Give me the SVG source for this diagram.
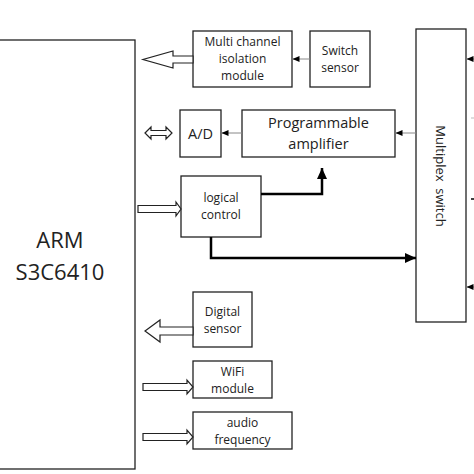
<svg xmlns="http://www.w3.org/2000/svg" width="474" height="474" viewBox="0 0 474 474">
<defs>
<marker id="ah" markerWidth="8" markerHeight="8" refX="7" refY="4" orient="auto" markerUnits="userSpaceOnUse">
<path d="M0,1 L7,4 L0,7 Z" fill="#000"/>
</marker>
<marker id="ahb" markerWidth="12" markerHeight="12" refX="11" refY="6" orient="auto" markerUnits="userSpaceOnUse">
<path d="M0,1 L11,6 L0,11 Z" fill="#000"/>
</marker>
<style>
.box{fill:#fff;stroke:#222;stroke-width:1.3}
.t{font-family:"Open Sans","Liberation Sans",sans-serif;font-size:12px;fill:#222;text-anchor:middle}
.m{font-size:14.5px}
.big{font-family:"Open Sans","Liberation Sans",sans-serif;font-size:22px;fill:#222;text-anchor:middle}
.thin{stroke:#888;stroke-width:1;fill:none}
.thick{stroke:#000;stroke-width:2.5;fill:none}
.hol{fill:#fff;stroke:#222;stroke-width:1.2}
</style>
</defs>
<rect width="474" height="474" fill="#fff"/>
<g id="arm"><rect class="box" x="-5" y="40" width="140" height="429"/>
<text class="big" x="60" y="248">ARM</text><text class="big" x="60" y="280">S3C6410</text></g>
<g id="multi"><rect class="box" x="193" y="31" width="99" height="56"/>
<text class="t" x="242.5" y="46">Multi channel</text><text class="t" x="242.5" y="63">isolation</text><text class="t" x="242.5" y="80">module</text></g>
<g id="switch"><rect class="box" x="310" y="31" width="60" height="56"/>
<text class="t" x="340" y="55">Switch</text><text class="t" x="340" y="72">sensor</text></g>
<g id="ad"><rect class="box" x="180" y="110" width="41" height="47"/>
<text class="t m" x="200.5" y="139">A/D</text></g>
<g id="amp"><rect class="box" x="242" y="110" width="153" height="47"/>
<text class="t m" x="318.5" y="128">Programmable</text><text class="t m" x="318.5" y="149">amplifier</text></g>
<g id="logic"><rect class="box" x="181" y="176" width="80" height="61"/>
<text class="t" x="221" y="202">logical</text><text class="t" x="221" y="219">control</text></g>
<g id="mux"><rect class="box" x="416" y="29" width="50" height="293"/>
<text class="t" style="font-size:13px" transform="translate(436,176) rotate(90)" x="0" y="0" xml:space="preserve">Multiplex  switch</text></g>
<g id="digital"><rect class="box" x="193" y="292" width="59" height="55"/>
<text class="t" x="222.5" y="316">Digital</text><text class="t" x="222.5" y="333">sensor</text></g>
<g id="wifi"><rect class="box" x="193" y="361" width="79" height="37"/>
<text class="t" x="232.5" y="376">WiFi</text><text class="t" x="232.5" y="393">module</text></g>
<g id="audio"><rect class="box" x="193" y="412" width="99" height="37"/>
<text class="t" x="242.5" y="427">audio</text><text class="t" x="242.5" y="444">frequency</text></g>
<g id="connectors">
<line class="thin" x1="310" y1="59" x2="292.5" y2="59" marker-end="url(#ah)"/>
<line class="thin" x1="242" y1="133" x2="221.5" y2="133" marker-end="url(#ah)"/>
<line class="thin" x1="416" y1="133" x2="395.5" y2="133" marker-end="url(#ah)"/>
<line class="thin" x1="478" y1="59" x2="466.5" y2="59" marker-end="url(#ah)"/>
<line class="thin" x1="478" y1="287" x2="466.5" y2="287" marker-end="url(#ah)"/>
<line x1="471" y1="118" x2="474" y2="118" stroke="#bbb" stroke-width="1"/>
<line x1="471" y1="199" x2="474" y2="199" stroke="#000" stroke-width="1.5"/>
<polyline class="thick" points="261,194 322,194 322,168" marker-end="url(#ahb)"/>
<polyline class="thick" points="211,237 211,258 416,258" marker-end="url(#ahb)"/>
<polygon class="hol" points="193,56 173,56 173,51 143,59.5 173,68 173,63 193,63"/>
<polygon class="hol" points="145,133 151,127 151,130.5 166,130.5 166,127 172,133 166,139 166,135.5 151,135.5 151,139"/>
<polygon class="hol" points="138,205.5 176,205.5 176,202 181,209 176,216 176,212.5 138,212.5"/>
<polygon class="hol" points="193,327 160,327 160,320 145,331 160,342 160,335 193,335"/>
<polygon class="hol" points="143,383.5 187,383.5 187,380 193,387 187,394 187,390.5 143,390.5"/>
<polygon class="hol" points="143,433.5 187,433.5 187,430 193,437 187,444 187,440.5 143,440.5"/>
</g>
</svg>
